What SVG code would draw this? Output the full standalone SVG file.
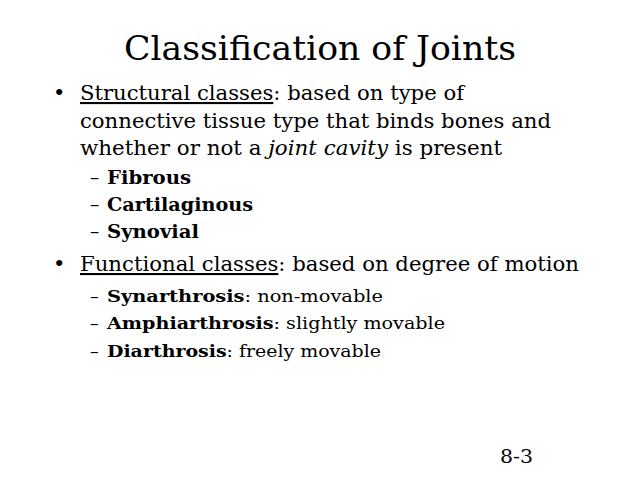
<svg xmlns="http://www.w3.org/2000/svg" width="638" height="478" viewBox="0 0 638 478">
<style>
text{font-family:"DejaVu Serif","Liberation Serif",serif;fill:#000}
.t{font-size:34px}
.b{font-size:21px}
.s{font-size:18.5px}
.f{font-size:17.5px}
</style>
<rect width="638" height="478" fill="#fff"/>
<text class="t" x="320" y="60" text-anchor="middle" textLength="392" lengthAdjust="spacingAndGlyphs">Classification of Joints</text>
<text class="b" x="53" y="100">•</text>
<text class="b" x="80" y="100" textLength="384" lengthAdjust="spacingAndGlyphs"><tspan text-decoration="underline">Structural classes</tspan>: based on type of</text>
<text class="b" x="80" y="128" textLength="471" lengthAdjust="spacingAndGlyphs">connective tissue type that binds bones and</text>
<text class="b" x="80" y="155" textLength="422" lengthAdjust="spacingAndGlyphs">whether or not a <tspan font-style="italic">joint cavity</tspan> is present</text>
<text class="s" x="90" y="184">–</text>
<text class="s" x="107" y="184" font-weight="bold" textLength="84" lengthAdjust="spacingAndGlyphs">Fibrous</text>
<text class="s" x="90" y="211">–</text>
<text class="s" x="107" y="211" font-weight="bold" textLength="146" lengthAdjust="spacingAndGlyphs">Cartilaginous</text>
<text class="s" x="90" y="238">–</text>
<text class="s" x="107" y="238" font-weight="bold" textLength="92" lengthAdjust="spacingAndGlyphs">Synovial</text>
<text class="b" x="53" y="271">•</text>
<text class="b" x="80" y="271" textLength="499" lengthAdjust="spacingAndGlyphs"><tspan text-decoration="underline">Functional classes</tspan>: based on degree of motion</text>
<text class="f" x="90" y="302">–</text>
<text class="f" x="107" y="302" textLength="276" lengthAdjust="spacingAndGlyphs"><tspan font-weight="bold">Synarthrosis</tspan>: non-movable</text>
<text class="f" x="90" y="329">–</text>
<text class="f" x="107" y="329" textLength="338" lengthAdjust="spacingAndGlyphs"><tspan font-weight="bold">Amphiarthrosis</tspan>: slightly movable</text>
<text class="f" x="90" y="357">–</text>
<text class="f" x="107" y="357" textLength="274" lengthAdjust="spacingAndGlyphs"><tspan font-weight="bold">Diarthrosis</tspan>: freely movable</text>
<text class="s" x="500" y="463" textLength="33" lengthAdjust="spacingAndGlyphs">8-3</text>
</svg>
